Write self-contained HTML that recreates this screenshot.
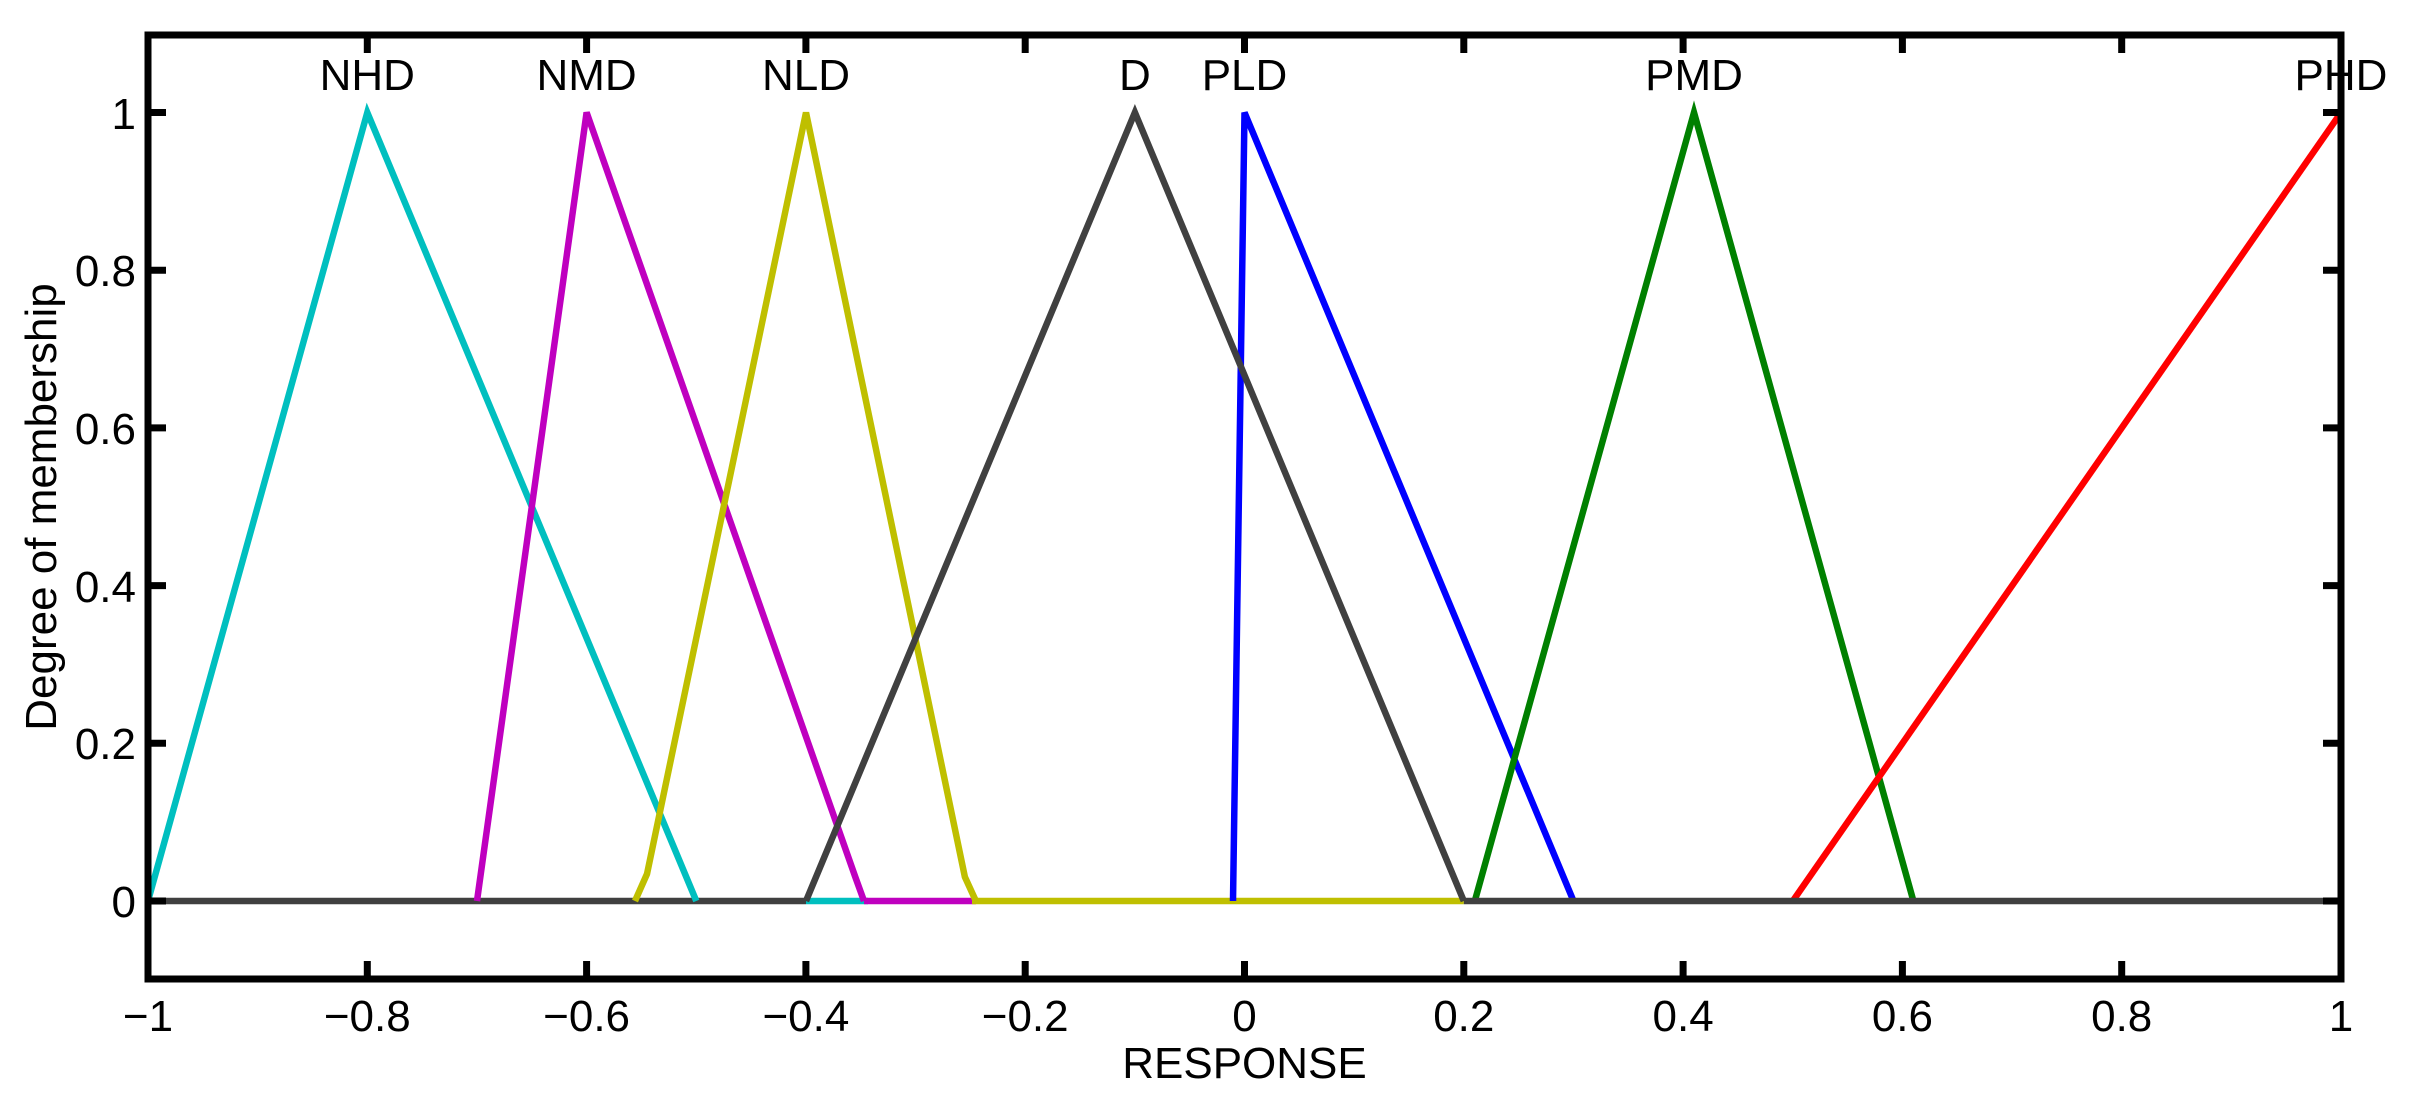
<!DOCTYPE html>
<html><head><meta charset="utf-8"><style>html,body{margin:0;padding:0;background:#fff}svg{display:block}</style></head>
<body>
<svg width="2410" height="1104" viewBox="0 0 2410 1104" xmlns="http://www.w3.org/2000/svg" font-family="Liberation Sans, Arial, sans-serif">
<rect width="2410" height="1104" fill="#fff"/>
<g fill="none" stroke-width="6.5" stroke-linejoin="miter">
<polyline stroke="#404040" points="148,901 806,901"/>
<polyline stroke="#00bfbf" points="806,901 868,901"/>
<polyline stroke="#bf00bf" points="864,901 975.9,901"/>
<polyline stroke="#bfbf00" points="972,901 1463.8,901"/>
<polyline stroke="#00bfbf" points="148,901 367.3,112.5 696.3,901"/>
<polyline stroke="#bf00bf" points="477,901 586.6,112.5 855.3,877 864,901"/>
<polyline stroke="#bfbf00" points="635,901 647,874 806,112.5 964.9,877 975.9,901"/>
<polyline stroke="#0000ff" points="1233,901 1244.5,112.5 1573.5,901"/>
<polyline stroke="#008000" points="1474.8,901 1694,112.5 1913.4,901"/>
<polyline stroke="#ff0000" points="1792.8,901 2341,112.5"/>
<polyline stroke="#404040" points="806,901 1134.9,112.5 1463.8,901"/>
<polyline stroke="#404040" points="1463.8,901 2341,901"/>
</g>
<rect x="148" y="35" width="2193" height="944" fill="none" stroke="#000" stroke-width="7"/>
<g stroke="#000" stroke-width="7">
<path d="M367.3,979v-18M586.6,979v-18M805.9,979v-18M1025.2,979v-18M1244.5,979v-18M1463.8,979v-18M1683.1,979v-18M1902.4,979v-18M2121.7,979v-18
M367.3,35v18M586.6,35v18M805.9,35v18M1025.2,35v18M1244.5,35v18M1463.8,35v18M1683.1,35v18M1902.4,35v18M2121.7,35v18"/>
<path d="M148,901h18M148,743.3h18M148,585.6h18M148,427.9h18M148,270.2h18M148,112.5h18
M2341,901h-18M2341,743.3h-18M2341,585.6h-18M2341,427.9h-18M2341,270.2h-18M2341,112.5h-18"/>
</g>
<g font-size="44" fill="#000" text-anchor="middle">
<text x="148" y="1031">−1</text>
<text x="367.3" y="1031">−0.8</text>
<text x="586.6" y="1031">−0.6</text>
<text x="805.9" y="1031">−0.4</text>
<text x="1025.2" y="1031">−0.2</text>
<text x="1244.5" y="1031">0</text>
<text x="1463.8" y="1031">0.2</text>
<text x="1683.1" y="1031">0.4</text>
<text x="1902.4" y="1031">0.6</text>
<text x="2121.7" y="1031">0.8</text>
<text x="2341" y="1031">1</text>
<text x="1244.5" y="1078">RESPONSE</text>
<text x="367.3" y="90">NHD</text>
<text x="586.6" y="90">NMD</text>
<text x="806" y="90">NLD</text>
<text x="1134.9" y="90">D</text>
<text x="1244.5" y="90">PLD</text>
<text x="1694" y="90">PMD</text>
<text x="2341" y="90">PHD</text>
</g>
<g font-size="44" fill="#000" text-anchor="end">
<text x="136" y="917">0</text>
<text x="136" y="759">0.2</text>
<text x="136" y="602">0.4</text>
<text x="136" y="444">0.6</text>
<text x="136" y="286">0.8</text>
<text x="136" y="129">1</text>
</g>
<text x="56" y="507" font-size="44" text-anchor="middle" transform="rotate(-90 56 507)">Degree of membership</text>
</svg>
</body></html>
